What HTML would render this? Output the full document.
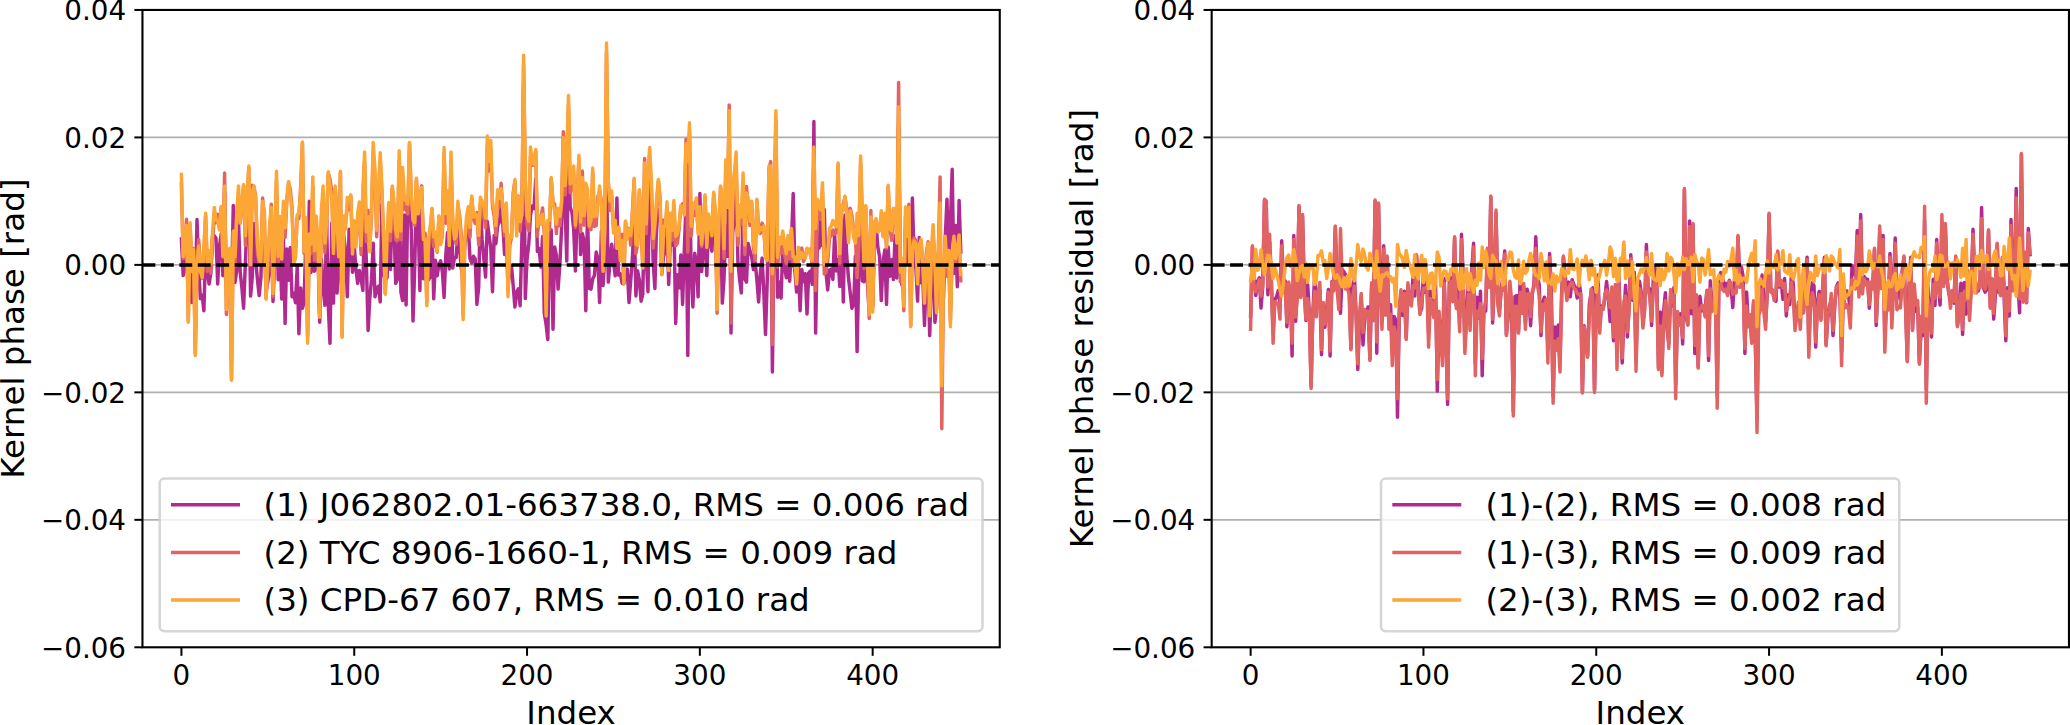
<!DOCTYPE html><html><head><meta charset="utf-8"><title>Kernel phase</title><style>html,body{margin:0;padding:0;background:#fff}svg{display:block}text{font-family:"DejaVu Sans","Liberation Sans",sans-serif;fill:#000}</style></head><body>
<svg width="2070" height="725" viewBox="0 0 2070 725">
<rect width="2070" height="725" fill="#fff"/>
<g>
<line x1="142.46" x2="999.76" y1="137.42" y2="137.42" stroke="#b0b0b0" stroke-width="1.85"/>
<line x1="142.46" x2="999.76" y1="264.89" y2="264.89" stroke="#b0b0b0" stroke-width="1.85"/>
<line x1="142.46" x2="999.76" y1="392.36" y2="392.36" stroke="#b0b0b0" stroke-width="1.85"/>
<line x1="142.46" x2="999.76" y1="519.83" y2="519.83" stroke="#b0b0b0" stroke-width="1.85"/>
<clipPath id="cp0"><rect x="142.46" y="9.95" width="857.30" height="637.35"/></clipPath>
<g clip-path="url(#cp0)" fill="none" stroke-width="3.47" stroke-linejoin="round" stroke-linecap="square">
<path d="M181.4,238.8 L183.2,275.6 L184.9,263.6 L186.6,252.3 L188.3,294.8 L190.1,237.8 L191.8,302.5 L193.5,270.7 L195.3,295.9 L197.0,219.6 L198.7,268.2 L200.4,298.6 L202.2,295.2 L203.9,310.8 L205.6,250.2 L207.3,272.6 L209.1,284.0 L210.8,273.0 L212.5,236.6 L214.3,235.7 L216.0,238.2 L217.7,284.0 L219.4,247.0 L221.2,234.0 L222.9,275.8 L224.6,191.9 L226.4,285.1 L228.1,275.7 L229.8,266.4 L231.5,284.8 L233.3,205.6 L235.0,282.6 L236.7,270.3 L238.5,219.5 L240.2,272.2 L241.9,287.8 L243.6,308.2 L245.4,262.3 L247.1,218.4 L248.8,193.9 L250.6,296.1 L252.3,276.5 L254.0,223.4 L255.7,260.0 L257.5,280.4 L259.2,295.5 L260.9,277.7 L262.6,218.4 L264.4,237.3 L266.1,291.3 L267.8,281.9 L269.6,269.6 L271.3,229.5 L273.0,301.4 L274.7,258.9 L276.5,195.4 L278.2,279.7 L279.9,245.6 L281.7,299.0 L283.4,234.0 L285.1,323.5 L286.8,248.9 L288.6,280.2 L290.3,247.4 L292.0,296.8 L293.8,293.4 L295.5,302.8 L297.2,266.5 L298.9,333.7 L300.7,288.0 L302.4,308.2 L304.1,302.4 L305.8,238.8 L307.6,299.1 L309.3,201.2 L311.0,272.4 L312.8,241.3 L314.5,271.3 L316.2,266.3 L317.9,246.4 L319.7,322.2 L321.4,259.2 L323.1,286.6 L324.9,305.3 L326.6,220.3 L328.3,305.7 L330.0,343.3 L331.8,222.9 L333.5,303.1 L335.2,214.6 L337.0,293.0 L338.7,274.5 L340.4,209.9 L342.1,282.2 L343.9,236.8 L345.6,251.7 L347.3,296.8 L349.1,229.2 L350.8,244.5 L352.5,272.2 L354.2,244.5 L356.0,270.0 L357.7,283.4 L359.4,270.4 L361.1,279.0 L362.9,290.4 L364.6,204.8 L366.3,260.3 L368.1,330.5 L369.8,298.1 L371.5,279.7 L373.2,243.2 L375.0,296.8 L376.7,289.0 L378.4,286.2 L380.2,301.9 L381.9,204.5 L383.6,273.5 L385.3,280.3 L387.1,277.5 L388.8,238.8 L390.5,269.5 L392.3,189.6 L394.0,228.0 L395.7,283.4 L397.4,279.3 L399.2,180.1 L400.9,291.8 L402.6,300.6 L404.4,215.0 L406.1,305.0 L407.8,198.0 L409.5,194.1 L411.3,231.1 L413.0,321.0 L414.7,267.8 L416.4,194.8 L418.2,222.4 L419.9,290.4 L421.6,185.9 L423.4,278.8 L425.1,254.0 L426.8,276.7 L428.5,280.0 L430.3,276.8 L432.0,230.4 L433.7,298.7 L435.5,260.3 L437.2,275.7 L438.9,264.4 L440.6,260.9 L442.4,272.1 L444.1,297.4 L445.8,255.0 L447.6,232.4 L449.3,268.9 L451.0,179.5 L452.7,268.1 L454.5,257.4 L456.2,257.6 L457.9,230.3 L459.6,247.8 L461.4,269.0 L463.1,276.1 L464.8,239.4 L466.6,234.6 L468.3,227.2 L470.0,258.4 L471.7,263.0 L473.5,256.3 L475.2,259.0 L476.9,304.4 L478.7,287.0 L480.4,204.0 L482.1,239.7 L483.8,258.7 L485.6,277.0 L487.3,221.5 L489.0,235.1 L490.8,247.7 L492.5,291.7 L494.2,235.4 L495.9,243.7 L497.7,225.3 L499.4,222.1 L501.1,207.9 L502.9,224.9 L504.6,254.6 L506.3,227.7 L508.0,289.7 L509.8,265.3 L511.5,266.5 L513.2,285.3 L514.9,307.0 L516.7,291.8 L518.4,288.9 L520.1,305.7 L521.9,238.9 L523.6,86.2 L525.3,298.6 L527.0,259.9 L528.8,243.7 L530.5,215.2 L532.2,206.0 L534.0,208.5 L535.7,178.9 L537.4,251.5 L539.1,248.3 L540.9,267.0 L542.6,236.5 L544.3,313.3 L546.1,324.5 L547.8,339.5 L549.5,239.1 L551.2,229.9 L553.0,329.3 L554.7,247.1 L556.4,255.3 L558.1,289.1 L559.9,263.8 L561.6,226.9 L563.3,170.5 L565.1,207.0 L566.8,261.1 L568.5,139.4 L570.2,207.4 L572.0,212.7 L573.7,229.2 L575.4,270.9 L577.2,211.3 L578.9,179.7 L580.6,254.6 L582.3,233.5 L584.1,241.0 L585.8,310.8 L587.5,212.5 L589.3,288.4 L591.0,289.1 L592.7,278.9 L594.4,275.5 L596.2,252.1 L597.9,258.8 L599.6,302.5 L601.4,231.0 L603.1,285.5 L604.8,256.0 L606.5,176.9 L608.3,282.1 L610.0,261.7 L611.7,244.2 L613.4,261.5 L615.2,275.7 L616.9,198.0 L618.6,275.1 L620.4,273.8 L622.1,283.3 L623.8,283.8 L625.5,275.3 L627.3,269.1 L629.0,302.5 L630.7,280.7 L632.5,256.5 L634.2,219.2 L635.9,295.9 L637.6,270.7 L639.4,280.2 L641.1,301.2 L642.8,294.0 L644.6,200.3 L646.3,260.6 L648.0,291.7 L649.7,168.3 L651.5,202.6 L653.2,263.0 L654.9,288.5 L656.6,223.0 L658.4,210.1 L660.1,214.6 L661.8,274.5 L663.6,255.7 L665.3,252.7 L667.0,229.7 L668.7,284.4 L670.5,235.7 L672.2,245.3 L673.9,222.5 L675.7,323.5 L677.4,274.7 L679.1,287.8 L680.8,255.1 L682.6,304.4 L684.3,250.7 L686.0,203.8 L687.8,355.4 L689.5,173.3 L691.2,271.3 L692.9,307.0 L694.7,253.3 L696.4,262.3 L698.1,296.8 L699.9,193.5 L701.6,271.5 L703.3,251.0 L705.0,230.5 L706.8,275.6 L708.5,223.1 L710.2,241.8 L711.9,251.2 L713.7,215.4 L715.4,230.0 L717.1,285.8 L718.9,255.3 L720.6,217.4 L722.3,303.1 L724.0,279.3 L725.8,225.4 L727.5,256.2 L729.2,147.7 L731.0,333.1 L732.7,232.3 L734.4,220.3 L736.1,173.7 L737.9,261.7 L739.6,279.2 L741.3,292.9 L743.1,201.0 L744.8,279.2 L746.5,282.1 L748.2,243.6 L750.0,251.1 L751.7,256.6 L753.4,269.5 L755.2,262.1 L756.9,280.2 L758.6,301.9 L760.3,273.0 L762.1,258.1 L763.8,291.7 L765.5,334.4 L767.2,282.0 L769.0,186.5 L770.7,184.8 L772.4,372.0 L774.2,221.9 L775.9,153.6 L777.6,297.3 L779.3,281.9 L781.1,298.0 L782.8,245.7 L784.5,265.7 L786.3,277.8 L788.0,255.4 L789.7,281.2 L791.4,244.6 L793.2,193.5 L794.9,271.0 L796.6,292.0 L798.4,264.5 L800.1,310.8 L801.8,269.5 L803.5,281.7 L805.3,273.7 L807.0,314.0 L808.7,272.9 L810.4,271.0 L812.2,284.3 L813.9,121.5 L815.6,333.1 L817.4,238.5 L819.1,248.1 L820.8,214.9 L822.5,245.8 L824.3,209.4 L826.0,272.7 L827.7,289.9 L829.5,270.2 L831.2,269.0 L832.9,279.5 L834.6,233.9 L836.4,271.1 L838.1,259.8 L839.8,286.4 L841.6,219.5 L843.3,301.9 L845.0,215.0 L846.7,255.2 L848.5,278.3 L850.2,292.6 L851.9,308.2 L853.7,304.4 L855.4,256.2 L857.1,351.6 L858.8,270.0 L860.6,204.4 L862.3,280.7 L864.0,281.7 L865.7,239.1 L867.5,283.8 L869.2,312.6 L870.9,229.8 L872.7,306.9 L874.4,244.0 L876.1,223.5 L877.8,246.8 L879.6,257.0 L881.3,300.6 L883.0,262.3 L884.8,250.0 L886.5,304.4 L888.2,247.0 L889.9,276.3 L891.7,259.4 L893.4,279.5 L895.1,235.4 L896.9,278.0 L898.6,126.2 L900.3,274.1 L902.0,285.2 L903.8,284.3 L905.5,229.1 L907.2,264.3 L908.9,226.6 L910.7,294.7 L912.4,198.0 L914.1,261.2 L915.9,268.5 L917.6,301.1 L919.3,237.5 L921.0,282.7 L922.8,277.6 L924.5,325.4 L926.2,279.8 L928.0,267.1 L929.7,335.6 L931.4,280.4 L933.1,242.4 L934.9,322.3 L936.6,306.9 L938.3,276.1 L940.1,249.0 L941.8,304.9 L943.5,298.0 L945.2,239.4 L947.0,199.2 L948.7,276.7 L950.4,223.5 L952.2,169.3 L953.9,273.5 L955.6,225.4 L957.3,286.7 L959.1,200.5 L960.8,252.1" stroke="#b12a90"/>
<path d="M181.4,183.9 L183.2,258.5 L184.9,251.0 L186.6,219.2 L188.3,321.0 L190.1,225.3 L191.8,265.0 L193.5,248.6 L195.3,354.1 L197.0,262.5 L198.7,239.8 L200.4,264.9 L202.2,278.2 L203.9,255.5 L205.6,216.0 L207.3,271.5 L209.1,260.1 L210.8,273.1 L212.5,241.6 L214.3,217.1 L216.0,222.6 L217.7,214.2 L219.4,223.6 L221.2,208.0 L222.9,257.2 L224.6,173.1 L226.4,314.6 L228.1,271.8 L229.8,256.7 L231.5,379.0 L233.3,231.9 L235.0,266.2 L236.7,214.6 L238.5,195.4 L240.2,223.0 L241.9,206.2 L243.6,185.9 L245.4,245.4 L247.1,205.5 L248.8,167.4 L250.6,258.4 L252.3,185.3 L254.0,187.1 L255.7,196.8 L257.5,254.5 L259.2,261.8 L260.9,256.5 L262.6,198.0 L264.4,220.7 L266.1,298.0 L267.8,268.3 L269.6,234.5 L271.3,204.3 L273.0,296.8 L274.7,251.1 L276.5,180.8 L278.2,265.8 L279.9,226.0 L281.7,252.8 L283.4,210.7 L285.1,237.3 L286.8,200.0 L288.6,182.7 L290.3,189.7 L292.0,207.3 L293.8,257.4 L295.5,251.7 L297.2,217.4 L298.9,218.5 L300.7,186.0 L302.4,143.2 L304.1,253.2 L305.8,227.3 L307.6,336.9 L309.3,243.7 L311.0,253.6 L312.8,186.5 L314.5,260.3 L316.2,224.8 L317.9,247.1 L319.7,315.9 L321.4,219.4 L323.1,195.4 L324.9,252.7 L326.6,230.2 L328.3,173.1 L330.0,179.1 L331.8,191.7 L333.5,248.0 L335.2,188.7 L337.0,212.1 L338.7,252.4 L340.4,172.5 L342.1,336.3 L343.9,225.5 L345.6,222.5 L347.3,206.8 L349.1,209.7 L350.8,196.1 L352.5,247.6 L354.2,230.4 L356.0,241.7 L357.7,222.7 L359.4,211.5 L361.1,254.4 L362.9,198.1 L364.6,161.6 L366.3,241.5 L368.1,210.4 L369.8,245.3 L371.5,216.3 L373.2,152.1 L375.0,176.7 L376.7,236.7 L378.4,202.9 L380.2,162.3 L381.9,192.3 L383.6,240.0 L385.3,292.9 L387.1,237.3 L388.8,211.9 L390.5,240.8 L392.3,187.9 L394.0,211.5 L395.7,239.7 L397.4,240.7 L399.2,160.4 L400.9,239.6 L402.6,177.1 L404.4,209.4 L406.1,208.9 L407.8,213.9 L409.5,143.8 L411.3,202.0 L413.0,214.1 L414.7,225.2 L416.4,179.5 L418.2,208.9 L419.9,204.4 L421.6,196.7 L423.4,233.2 L425.1,233.2 L426.8,301.6 L428.5,249.3 L430.3,233.7 L432.0,209.4 L433.7,246.4 L435.5,241.9 L437.2,252.2 L438.9,217.1 L440.6,238.1 L442.4,230.8 L444.1,152.8 L445.8,223.2 L447.6,200.4 L449.3,240.4 L451.0,161.6 L452.7,227.1 L454.5,235.3 L456.2,244.4 L457.9,207.3 L459.6,214.9 L461.4,237.2 L463.1,315.3 L464.8,245.4 L466.6,225.6 L468.3,216.4 L470.0,237.1 L471.7,197.3 L473.5,217.2 L475.2,223.5 L476.9,212.4 L478.7,244.8 L480.4,206.9 L482.1,210.8 L483.8,214.8 L485.6,227.7 L487.3,145.7 L489.0,170.9 L490.8,150.2 L492.5,206.4 L494.2,216.5 L495.9,235.1 L497.7,195.5 L499.4,206.5 L501.1,183.3 L502.9,210.8 L504.6,236.0 L506.3,204.4 L508.0,290.7 L509.8,245.0 L511.5,237.7 L513.2,192.4 L514.9,180.9 L516.7,229.7 L518.4,195.9 L520.1,231.2 L521.9,210.1 L523.6,64.8 L525.3,181.5 L527.0,224.9 L528.8,230.7 L530.5,156.5 L532.2,165.4 L534.0,164.9 L535.7,150.8 L537.4,236.1 L539.1,217.1 L540.9,217.9 L542.6,208.0 L544.3,234.1 L546.1,309.5 L547.8,230.1 L549.5,229.8 L551.2,178.8 L553.0,201.9 L554.7,204.3 L556.4,233.6 L558.1,209.4 L559.9,225.8 L561.6,205.6 L563.3,131.7 L565.1,195.0 L566.8,164.2 L568.5,104.9 L570.2,192.7 L572.0,186.1 L573.7,173.2 L575.4,227.4 L577.2,196.6 L578.9,159.0 L580.6,231.7 L582.3,171.0 L584.1,225.2 L585.8,192.9 L587.5,199.0 L589.3,227.0 L591.0,229.6 L592.7,172.2 L594.4,226.4 L596.2,225.7 L597.9,196.4 L599.6,192.1 L601.4,200.0 L603.1,266.0 L604.8,235.6 L606.5,52.7 L608.3,181.8 L610.0,210.6 L611.7,196.3 L613.4,226.7 L615.2,224.9 L616.9,242.1 L618.6,227.0 L620.4,260.1 L622.1,234.3 L623.8,282.1 L625.5,222.2 L627.3,235.4 L629.0,228.6 L630.7,245.1 L632.5,209.6 L634.2,179.5 L635.9,253.5 L637.6,244.4 L639.4,191.0 L641.1,228.6 L642.8,266.8 L644.6,158.5 L646.3,233.5 L648.0,179.0 L649.7,157.2 L651.5,193.3 L653.2,248.0 L654.9,227.4 L656.6,206.0 L658.4,180.8 L660.1,199.4 L661.8,269.6 L663.6,219.9 L665.3,235.7 L667.0,207.2 L668.7,269.4 L670.5,222.7 L672.2,240.0 L673.9,210.1 L675.7,245.7 L677.4,243.3 L679.1,228.7 L680.8,206.9 L682.6,203.8 L684.3,211.7 L686.0,139.3 L687.8,252.1 L689.5,132.3 L691.2,235.9 L692.9,212.6 L694.7,215.2 L696.4,207.5 L698.1,229.9 L699.9,214.9 L701.6,246.5 L703.3,225.9 L705.0,197.6 L706.8,241.0 L708.5,219.1 L710.2,219.3 L711.9,234.2 L713.7,193.5 L715.4,217.7 L717.1,313.3 L718.9,227.3 L720.6,187.1 L722.3,210.2 L724.0,258.2 L725.8,167.0 L727.5,203.1 L729.2,104.9 L731.0,322.9 L732.7,208.0 L734.4,174.6 L736.1,161.6 L737.9,245.2 L739.6,214.8 L741.3,224.5 L743.1,182.7 L744.8,254.4 L746.5,186.5 L748.2,207.5 L750.0,225.5 L751.7,203.3 L753.4,246.6 L755.2,260.5 L756.9,200.5 L758.6,228.0 L760.3,233.5 L762.1,223.1 L763.8,227.3 L765.5,255.9 L767.2,260.8 L769.0,169.1 L770.7,161.6 L772.4,344.6 L774.2,202.7 L775.9,120.2 L777.6,266.9 L779.3,246.8 L781.1,253.4 L782.8,240.7 L784.5,254.0 L786.3,263.2 L788.0,245.0 L789.7,258.7 L791.4,229.8 L793.2,266.4 L794.9,260.0 L796.6,282.7 L798.4,250.9 L800.1,252.5 L801.8,248.0 L803.5,261.5 L805.3,256.7 L807.0,249.6 L808.7,251.5 L810.4,249.1 L812.2,265.8 L813.9,156.5 L815.6,290.4 L817.4,209.1 L819.1,212.6 L820.8,219.6 L822.5,192.2 L824.3,274.0 L826.0,272.4 L827.7,260.8 L829.5,238.1 L831.2,235.6 L832.9,230.0 L834.6,234.3 L836.4,231.9 L838.1,164.2 L839.8,263.2 L841.6,210.9 L843.3,203.8 L845.0,197.3 L846.7,208.8 L848.5,236.3 L850.2,208.2 L851.9,215.7 L853.7,231.1 L855.4,236.8 L857.1,277.6 L858.8,245.1 L860.6,163.3 L862.3,217.0 L864.0,268.5 L865.7,206.9 L867.5,265.2 L869.2,318.4 L870.9,210.5 L872.7,305.7 L874.4,224.4 L876.1,220.2 L877.8,231.7 L879.6,227.6 L881.3,220.3 L883.0,234.7 L884.8,214.5 L886.5,248.2 L888.2,186.5 L889.9,229.0 L891.7,240.4 L893.4,209.4 L895.1,218.6 L896.9,236.5 L898.6,82.6 L900.3,281.7 L902.0,265.0 L903.8,310.8 L905.5,216.5 L907.2,229.9 L908.9,204.3 L910.7,325.4 L912.4,243.5 L914.1,238.1 L915.9,240.5 L917.6,277.6 L919.3,249.7 L921.0,240.7 L922.8,263.5 L924.5,296.8 L926.2,254.6 L928.0,241.8 L929.7,311.0 L931.4,259.1 L933.1,234.3 L934.9,259.6 L936.6,310.2 L938.3,254.2 L940.1,176.9 L941.8,428.7 L943.5,281.5 L945.2,245.8 L947.0,276.3 L948.7,260.2 L950.4,320.3 L952.2,250.9 L953.9,245.8 L955.6,264.5 L957.3,248.7 L959.1,244.5 L960.8,280.8" stroke="#e16462"/>
<path d="M181.4,174.4 L183.2,256.6 L184.9,241.5 L186.6,225.6 L188.3,322.3 L190.1,222.8 L191.8,271.4 L193.5,249.4 L195.3,355.4 L197.0,263.7 L198.7,246.1 L200.4,271.3 L202.2,277.3 L203.9,246.0 L205.6,213.3 L207.3,263.1 L209.1,250.6 L210.8,263.6 L212.5,232.1 L214.3,207.5 L216.0,219.9 L217.7,220.6 L219.4,230.0 L221.2,206.5 L222.9,256.1 L224.6,185.9 L226.4,309.5 L228.1,262.2 L229.8,248.3 L231.5,380.3 L233.3,231.1 L235.0,256.7 L236.7,216.1 L238.5,185.9 L240.2,222.9 L241.9,202.9 L243.6,184.6 L245.4,235.8 L247.1,196.0 L248.8,166.1 L250.6,264.8 L252.3,191.7 L254.0,185.9 L255.7,200.9 L257.5,244.9 L259.2,258.4 L260.9,262.8 L262.6,201.2 L264.4,211.1 L266.1,299.3 L267.8,258.7 L269.6,225.0 L271.3,207.5 L273.0,293.6 L274.7,241.6 L276.5,171.2 L278.2,256.3 L279.9,216.4 L281.7,259.1 L283.4,201.2 L285.1,227.7 L286.8,200.0 L288.6,181.4 L290.3,196.1 L292.0,211.0 L293.8,263.8 L295.5,258.1 L297.2,215.1 L298.9,213.4 L300.7,192.4 L302.4,141.9 L304.1,251.3 L305.8,217.7 L307.6,343.3 L309.3,234.1 L311.0,244.0 L312.8,176.9 L314.5,250.7 L316.2,215.9 L317.9,239.5 L319.7,317.2 L321.4,209.9 L323.1,185.9 L324.9,243.1 L326.6,220.6 L328.3,171.8 L330.0,185.5 L331.8,198.1 L333.5,253.4 L335.2,186.0 L337.0,218.4 L338.7,256.7 L340.4,171.2 L342.1,337.5 L343.9,215.9 L345.6,228.8 L347.3,197.4 L349.1,200.1 L350.8,194.8 L352.5,254.0 L354.2,220.8 L356.0,246.9 L357.7,213.2 L359.4,201.9 L361.1,245.4 L362.9,189.9 L364.6,152.1 L366.3,231.9 L368.1,216.7 L369.8,251.7 L371.5,206.7 L373.2,142.5 L375.0,170.6 L376.7,230.2 L378.4,193.3 L380.2,152.7 L381.9,188.0 L383.6,236.6 L385.3,294.2 L387.1,233.9 L388.8,202.4 L390.5,231.2 L392.3,185.9 L394.0,201.9 L395.7,230.2 L397.4,236.9 L399.2,150.8 L400.9,230.9 L402.6,167.5 L404.4,199.9 L406.1,199.3 L407.8,204.3 L409.5,142.5 L411.3,192.4 L413.0,220.5 L414.7,222.7 L416.4,178.2 L418.2,213.8 L419.9,195.2 L421.6,187.1 L423.4,239.6 L425.1,238.8 L426.8,305.7 L428.5,239.8 L430.3,225.8 L432.0,208.2 L433.7,236.8 L435.5,232.4 L437.2,251.5 L438.9,215.8 L440.6,244.5 L442.4,237.1 L444.1,147.6 L445.8,213.6 L447.6,190.8 L449.3,245.4 L451.0,152.1 L452.7,217.5 L454.5,239.0 L456.2,236.1 L457.9,201.2 L459.6,218.9 L461.4,243.6 L463.1,319.7 L464.8,240.1 L466.6,216.0 L468.3,206.8 L470.0,227.5 L471.7,196.1 L473.5,217.1 L475.2,213.9 L476.9,215.4 L478.7,235.3 L480.4,197.3 L482.1,201.2 L483.8,205.8 L485.6,218.1 L487.3,136.1 L489.0,161.3 L490.8,140.6 L492.5,202.5 L494.2,211.4 L495.9,225.5 L497.7,189.7 L499.4,198.4 L501.1,188.4 L502.9,207.4 L504.6,231.2 L506.3,203.1 L508.0,296.8 L509.8,235.4 L511.5,237.4 L513.2,197.1 L514.9,179.5 L516.7,236.0 L518.4,196.5 L520.1,221.7 L521.9,214.9 L523.6,55.2 L525.3,178.2 L527.0,215.4 L528.8,221.2 L530.5,147.0 L532.2,163.0 L534.0,164.0 L535.7,149.5 L537.4,226.5 L539.1,215.8 L540.9,224.2 L542.6,214.3 L544.3,224.5 L546.1,315.9 L547.8,220.5 L549.5,220.3 L551.2,177.6 L553.0,203.6 L554.7,210.6 L556.4,224.1 L558.1,208.2 L559.9,216.2 L561.6,201.2 L563.3,137.4 L565.1,185.5 L566.8,154.6 L568.5,95.4 L570.2,183.9 L572.0,181.8 L573.7,166.1 L575.4,225.0 L577.2,202.9 L578.9,155.3 L580.6,222.1 L582.3,177.4 L584.1,215.7 L585.8,183.3 L587.5,189.5 L589.3,226.0 L591.0,220.0 L592.7,168.0 L594.4,216.8 L596.2,216.2 L597.9,202.7 L599.6,185.9 L601.4,206.4 L603.1,271.3 L604.8,226.1 L606.5,43.1 L608.3,182.9 L610.0,201.0 L611.7,191.0 L613.4,233.0 L615.2,220.3 L616.9,248.3 L618.6,227.6 L620.4,260.6 L622.1,240.6 L623.8,283.4 L625.5,220.9 L627.3,239.3 L629.0,229.3 L630.7,235.6 L632.5,216.0 L634.2,178.2 L635.9,243.9 L637.6,245.3 L639.4,189.7 L641.1,219.0 L642.8,268.1 L644.6,162.9 L646.3,223.9 L648.0,169.5 L649.7,147.6 L651.5,183.7 L653.2,238.4 L654.9,223.1 L656.6,198.8 L658.4,179.5 L660.1,198.1 L661.8,274.5 L663.6,226.3 L665.3,226.2 L667.0,201.8 L668.7,270.6 L670.5,213.1 L672.2,230.4 L673.9,200.5 L675.7,236.2 L677.4,233.7 L679.1,225.9 L680.8,205.6 L682.6,210.1 L684.3,215.0 L686.0,143.8 L687.8,161.4 L689.5,122.8 L691.2,226.3 L692.9,203.1 L694.7,205.6 L696.4,198.0 L698.1,233.9 L699.9,206.7 L701.6,244.2 L703.3,225.1 L705.0,194.8 L706.8,247.4 L708.5,214.0 L710.2,221.1 L711.9,235.8 L713.7,192.2 L715.4,211.4 L717.1,309.5 L718.9,218.4 L720.6,185.9 L722.3,200.6 L724.0,248.6 L725.8,159.7 L727.5,207.3 L729.2,110.7 L731.0,271.3 L732.7,198.4 L734.4,172.2 L736.1,152.1 L737.9,235.6 L739.6,205.3 L741.3,216.9 L743.1,173.1 L744.8,244.9 L746.5,192.9 L748.2,198.0 L750.0,221.2 L751.7,201.2 L753.4,242.8 L755.2,252.8 L756.9,199.2 L758.6,232.7 L760.3,227.5 L762.1,229.5 L763.8,226.0 L765.5,258.0 L767.2,260.1 L769.0,166.1 L770.7,166.1 L772.4,273.8 L774.2,193.5 L775.9,110.7 L777.6,257.3 L779.3,237.2 L781.1,243.9 L782.8,231.1 L784.5,244.4 L786.3,253.7 L788.0,235.5 L789.7,249.1 L791.4,228.6 L793.2,256.8 L794.9,257.0 L796.6,284.0 L798.4,247.3 L800.1,258.9 L801.8,252.6 L803.5,257.6 L805.3,257.9 L807.0,248.3 L808.7,249.5 L810.4,255.5 L812.2,260.6 L813.9,147.0 L815.6,228.5 L817.4,199.5 L819.1,203.1 L820.8,210.0 L822.5,182.7 L824.3,264.5 L826.0,263.7 L827.7,251.2 L829.5,228.5 L831.2,226.0 L832.9,220.5 L834.6,224.7 L836.4,226.6 L838.1,162.9 L839.8,253.7 L841.6,206.0 L843.3,210.2 L845.0,196.1 L846.7,215.2 L848.5,242.6 L850.2,210.7 L851.9,222.1 L853.7,237.5 L855.4,243.1 L857.1,213.3 L858.8,235.5 L860.6,155.9 L862.3,212.5 L864.0,262.2 L865.7,205.6 L867.5,255.6 L869.2,314.6 L870.9,216.9 L872.7,312.1 L874.4,222.5 L876.1,218.6 L877.8,231.8 L879.6,230.3 L881.3,210.7 L883.0,236.7 L884.8,213.3 L886.5,246.5 L888.2,185.2 L889.9,228.6 L891.7,230.9 L893.4,208.2 L895.1,209.0 L896.9,242.9 L898.6,106.8 L900.3,272.1 L902.0,258.3 L903.8,306.3 L905.5,206.9 L907.2,236.3 L908.9,207.5 L910.7,326.7 L912.4,249.9 L914.1,241.1 L915.9,244.2 L917.6,284.0 L919.3,245.0 L921.0,239.4 L922.8,263.8 L924.5,303.1 L926.2,260.9 L928.0,243.3 L929.7,315.9 L931.4,249.6 L933.1,224.7 L934.9,266.0 L936.6,312.7 L938.3,249.9 L940.1,203.1 L941.8,386.0 L943.5,272.0 L945.2,236.2 L947.0,266.7 L948.7,250.6 L950.4,326.7 L952.2,251.5 L953.9,236.2 L955.6,258.6 L957.3,249.4 L959.1,234.9 L960.8,274.5" stroke="#fca636"/>
<line x1="142.46" x2="999.76" y1="264.89" y2="264.89" stroke="#000" stroke-width="3.47" stroke-dasharray="12.877 5.569" stroke-linecap="butt"/>
</g>
<rect x="142.46" y="9.95" width="857.30" height="637.35" fill="none" stroke="#000" stroke-width="2.1"/>
<line x1="134.36" x2="142.46" y1="9.95" y2="9.95" stroke="#000" stroke-width="2.0"/>
<text x="126.06" y="20.45" font-size="27.78" text-anchor="end">0.04</text>
<line x1="134.36" x2="142.46" y1="137.42" y2="137.42" stroke="#000" stroke-width="2.0"/>
<text x="126.06" y="147.92" font-size="27.78" text-anchor="end">0.02</text>
<line x1="134.36" x2="142.46" y1="264.89" y2="264.89" stroke="#000" stroke-width="2.0"/>
<text x="126.06" y="275.39" font-size="27.78" text-anchor="end">0.00</text>
<line x1="134.36" x2="142.46" y1="392.36" y2="392.36" stroke="#000" stroke-width="2.0"/>
<text x="126.06" y="402.86" font-size="27.78" text-anchor="end">−0.02</text>
<line x1="134.36" x2="142.46" y1="519.83" y2="519.83" stroke="#000" stroke-width="2.0"/>
<text x="126.06" y="530.33" font-size="27.78" text-anchor="end">−0.04</text>
<line x1="134.36" x2="142.46" y1="647.30" y2="647.30" stroke="#000" stroke-width="2.0"/>
<text x="126.06" y="657.80" font-size="27.78" text-anchor="end">−0.06</text>
<line x1="181.43" x2="181.43" y1="647.30" y2="655.80" stroke="#000" stroke-width="2.0"/>
<text x="181.43" y="684.90" font-size="27.78" text-anchor="middle">0</text>
<line x1="354.24" x2="354.24" y1="647.30" y2="655.80" stroke="#000" stroke-width="2.0"/>
<text x="354.24" y="684.90" font-size="27.78" text-anchor="middle">100</text>
<line x1="527.04" x2="527.04" y1="647.30" y2="655.80" stroke="#000" stroke-width="2.0"/>
<text x="527.04" y="684.90" font-size="27.78" text-anchor="middle">200</text>
<line x1="699.85" x2="699.85" y1="647.30" y2="655.80" stroke="#000" stroke-width="2.0"/>
<text x="699.85" y="684.90" font-size="27.78" text-anchor="middle">300</text>
<line x1="872.66" x2="872.66" y1="647.30" y2="655.80" stroke="#000" stroke-width="2.0"/>
<text x="872.66" y="684.90" font-size="27.78" text-anchor="middle">400</text>
<text x="571.11" y="723.50" font-size="32.50" text-anchor="middle">Index</text>
<text transform="translate(23.96,328.62) rotate(-90)" font-size="32.50" text-anchor="middle">Kernel phase [rad]</text>
<rect x="159.70" y="478.45" width="822.80" height="152.75" rx="4.6" ry="4.6" fill="#fff" fill-opacity="0.8" stroke="#ccc" stroke-opacity="0.8" stroke-width="2.55"/>
<line x1="172.74" x2="238.24" y1="504.70" y2="504.70" stroke="#b12a90" stroke-width="3.47" stroke-linecap="square"/>
<text x="263.50" y="515.80" font-size="32.50">(1) J062802.01-663738.0, RMS = 0.006 rad</text>
<line x1="172.74" x2="238.24" y1="552.40" y2="552.40" stroke="#e16462" stroke-width="3.47" stroke-linecap="square"/>
<text x="263.50" y="563.50" font-size="32.50">(2) TYC 8906-1660-1, RMS = 0.009 rad</text>
<line x1="172.74" x2="238.24" y1="600.10" y2="600.10" stroke="#fca636" stroke-width="3.47" stroke-linecap="square"/>
<text x="263.50" y="611.20" font-size="32.50">(3) CPD-67 607, RMS = 0.010 rad</text>
</g>
<g>
<line x1="1211.67" x2="2068.97" y1="137.42" y2="137.42" stroke="#b0b0b0" stroke-width="1.85"/>
<line x1="1211.67" x2="2068.97" y1="264.89" y2="264.89" stroke="#b0b0b0" stroke-width="1.85"/>
<line x1="1211.67" x2="2068.97" y1="392.36" y2="392.36" stroke="#b0b0b0" stroke-width="1.85"/>
<line x1="1211.67" x2="2068.97" y1="519.83" y2="519.83" stroke="#b0b0b0" stroke-width="1.85"/>
<clipPath id="cp1"><rect x="1211.67" y="9.95" width="857.30" height="637.35"/></clipPath>
<g clip-path="url(#cp1)" fill="none" stroke-width="3.47" stroke-linejoin="round" stroke-linecap="square">
<path d="M1250.6,316.5 L1252.4,247.0 L1254.1,275.9 L1255.8,295.5 L1257.6,281.5 L1259.3,277.9 L1261.0,308.0 L1262.7,286.8 L1264.5,200.5 L1266.2,202.4 L1267.9,294.7 L1269.6,241.6 L1271.4,282.1 L1273.1,332.4 L1274.8,299.6 L1276.6,296.7 L1278.3,290.5 L1280.0,305.0 L1281.7,240.7 L1283.5,279.3 L1285.2,281.0 L1286.9,326.7 L1288.7,289.8 L1290.4,291.2 L1292.1,356.0 L1293.8,235.6 L1295.6,321.3 L1297.3,286.6 L1299.0,206.9 L1300.8,295.8 L1302.5,215.8 L1304.2,281.1 L1305.9,320.4 L1307.7,284.8 L1309.4,314.1 L1311.1,385.9 L1312.8,313.9 L1314.6,277.3 L1316.3,304.1 L1318.0,300.3 L1319.8,290.1 L1321.5,354.8 L1323.2,304.6 L1324.9,327.3 L1326.7,308.3 L1328.4,289.5 L1330.1,356.0 L1331.9,281.5 L1333.6,283.3 L1335.3,227.3 L1337.0,280.1 L1338.8,299.2 L1340.5,313.3 L1342.2,269.6 L1344.0,271.8 L1345.7,275.1 L1347.4,279.2 L1349.1,280.1 L1350.9,348.4 L1352.6,289.1 L1354.3,273.5 L1356.1,313.8 L1357.8,369.4 L1359.5,323.0 L1361.2,296.3 L1363.0,345.0 L1364.7,317.6 L1366.4,314.5 L1368.1,307.0 L1369.9,359.2 L1371.6,286.7 L1373.3,319.3 L1375.1,201.2 L1376.8,353.2 L1378.5,204.3 L1380.2,279.2 L1382.0,321.2 L1383.7,245.8 L1385.4,308.2 L1387.2,257.2 L1388.9,319.9 L1390.6,304.8 L1392.3,352.0 L1394.1,316.4 L1395.8,319.9 L1397.5,417.2 L1399.3,313.7 L1401.0,297.2 L1402.7,315.5 L1404.4,291.3 L1406.2,338.2 L1407.9,286.1 L1409.6,303.6 L1411.3,301.1 L1413.1,275.9 L1414.8,295.9 L1416.5,256.0 L1418.3,282.8 L1420.0,313.3 L1421.7,308.3 L1423.4,274.5 L1425.2,292.2 L1426.9,276.2 L1428.6,333.1 L1430.4,291.2 L1432.1,298.9 L1433.8,303.6 L1435.5,279.6 L1437.3,391.1 L1439.0,317.7 L1440.7,323.8 L1442.5,356.7 L1444.2,278.5 L1445.9,331.9 L1447.6,404.5 L1449.4,276.9 L1451.1,278.0 L1452.8,299.1 L1454.6,238.1 L1456.3,305.8 L1458.0,289.9 L1459.7,317.8 L1461.5,234.3 L1463.2,277.0 L1464.9,342.7 L1466.6,316.8 L1468.4,280.2 L1470.1,323.6 L1471.8,270.2 L1473.6,243.2 L1475.3,363.5 L1477.0,297.2 L1478.7,318.0 L1480.5,291.3 L1482.2,375.8 L1483.9,308.0 L1485.7,311.1 L1487.4,252.3 L1489.1,280.2 L1490.8,197.3 L1492.6,322.9 L1494.3,284.6 L1496.0,213.3 L1497.8,291.1 L1499.5,309.5 L1501.2,289.6 L1502.9,276.5 L1504.7,250.9 L1506.4,334.4 L1508.1,317.7 L1509.9,291.5 L1511.6,309.5 L1513.3,411.8 L1515.0,296.6 L1516.8,295.6 L1518.5,331.8 L1520.2,278.3 L1521.9,303.5 L1523.7,286.3 L1525.4,322.6 L1527.1,289.2 L1528.9,297.0 L1530.6,325.7 L1532.3,294.4 L1534.0,283.5 L1535.8,236.8 L1537.5,276.6 L1539.2,284.8 L1541.0,335.6 L1542.7,304.0 L1544.4,297.2 L1546.1,301.8 L1547.9,349.0 L1549.6,253.4 L1551.3,289.3 L1553.1,396.0 L1554.8,327.0 L1556.5,341.3 L1558.2,325.1 L1560.0,359.7 L1561.7,291.8 L1563.4,257.2 L1565.1,273.9 L1566.9,295.9 L1568.6,282.1 L1570.3,296.7 L1572.1,279.7 L1573.8,284.5 L1575.5,288.4 L1577.2,298.1 L1579.0,280.7 L1580.7,293.7 L1582.4,391.7 L1584.2,325.8 L1585.9,342.1 L1587.6,356.0 L1589.3,304.6 L1591.1,292.7 L1592.8,287.9 L1594.5,389.7 L1596.3,295.4 L1598.0,275.0 L1599.7,325.0 L1601.4,306.0 L1603.2,308.7 L1604.9,297.9 L1606.6,281.6 L1608.4,298.7 L1610.1,321.6 L1611.8,297.7 L1613.5,340.7 L1615.3,289.8 L1617.0,356.7 L1618.7,270.6 L1620.4,322.6 L1622.2,363.0 L1623.9,315.4 L1625.6,285.2 L1627.4,336.9 L1629.1,303.6 L1630.8,254.7 L1632.5,300.2 L1634.3,272.3 L1636.0,357.3 L1637.7,297.9 L1639.5,281.3 L1641.2,292.3 L1642.9,322.3 L1644.6,308.9 L1646.4,244.5 L1648.1,286.3 L1649.8,289.4 L1651.6,325.4 L1653.3,279.1 L1655.0,267.5 L1656.7,275.2 L1658.5,368.1 L1660.2,311.9 L1661.9,372.5 L1663.6,311.8 L1665.4,292.7 L1667.1,330.1 L1668.8,343.4 L1670.6,295.7 L1672.3,305.7 L1674.0,287.2 L1675.7,384.7 L1677.5,312.4 L1679.2,317.3 L1680.9,313.9 L1682.7,343.9 L1684.4,189.7 L1686.1,316.4 L1687.8,325.0 L1689.6,220.9 L1691.3,313.7 L1693.0,224.7 L1694.8,353.6 L1696.5,297.8 L1698.2,366.9 L1699.9,296.3 L1701.7,311.0 L1703.4,310.2 L1705.1,308.8 L1706.9,291.0 L1708.6,360.5 L1710.3,280.8 L1712.0,305.3 L1713.8,298.3 L1715.5,287.6 L1717.2,396.1 L1718.9,277.4 L1720.7,272.6 L1722.4,276.7 L1724.1,287.8 L1725.9,283.3 L1727.6,294.2 L1729.3,280.3 L1731.0,286.8 L1732.8,307.5 L1734.5,279.4 L1736.2,288.4 L1738.0,236.8 L1739.7,279.2 L1741.4,267.0 L1743.1,276.2 L1744.9,353.5 L1746.6,291.9 L1748.3,324.5 L1750.1,319.4 L1751.8,342.0 L1753.5,303.3 L1755.2,338.9 L1757.0,418.5 L1758.7,301.4 L1760.4,298.6 L1762.1,275.1 L1763.9,298.5 L1765.6,321.6 L1767.3,293.0 L1769.1,214.5 L1770.8,290.3 L1772.5,290.1 L1774.2,298.4 L1776.0,301.3 L1777.7,252.1 L1779.4,287.1 L1781.2,281.5 L1782.9,299.3 L1784.6,278.5 L1786.3,315.9 L1788.1,294.7 L1789.8,304.6 L1791.5,273.4 L1793.3,284.2 L1795.0,324.8 L1796.7,317.2 L1798.4,307.1 L1800.2,315.2 L1801.9,286.2 L1803.6,311.0 L1805.4,272.5 L1807.1,257.2 L1808.8,343.4 L1810.5,302.2 L1812.3,282.6 L1814.0,285.9 L1815.7,347.1 L1817.4,302.0 L1819.2,291.4 L1820.9,318.6 L1822.6,288.6 L1824.4,257.2 L1826.1,344.6 L1827.8,317.8 L1829.5,305.6 L1831.3,300.7 L1833.0,335.6 L1834.7,306.8 L1836.5,286.2 L1838.2,282.9 L1839.9,295.8 L1841.6,351.6 L1843.4,285.9 L1845.1,293.8 L1846.8,290.9 L1848.6,295.5 L1850.3,314.0 L1852.0,265.5 L1853.7,272.2 L1855.5,276.0 L1857.2,230.5 L1858.9,283.2 L1860.7,214.5 L1862.4,286.0 L1864.1,276.5 L1865.8,279.4 L1867.6,279.2 L1869.3,308.2 L1871.0,285.5 L1872.7,285.9 L1874.5,249.6 L1876.2,325.4 L1877.9,286.7 L1879.7,233.1 L1881.4,284.4 L1883.1,235.6 L1884.8,338.2 L1886.6,289.9 L1888.3,297.1 L1890.0,253.4 L1891.8,314.0 L1893.5,280.7 L1895.2,238.1 L1896.9,295.8 L1898.7,292.5 L1900.4,300.1 L1902.1,271.5 L1903.9,257.2 L1905.6,305.1 L1907.3,360.5 L1909.0,285.7 L1910.8,257.2 L1912.5,329.3 L1914.2,294.4 L1915.9,311.4 L1917.7,307.6 L1919.4,363.0 L1921.1,330.1 L1922.9,335.6 L1924.6,220.3 L1926.3,389.2 L1928.0,285.3 L1929.8,307.5 L1931.5,336.9 L1933.2,279.3 L1935.0,305.5 L1936.7,239.4 L1938.4,283.9 L1940.1,305.0 L1941.9,221.7 L1943.6,284.9 L1945.3,224.7 L1947.1,280.0 L1948.8,293.8 L1950.5,297.2 L1952.2,292.0 L1954.0,303.3 L1955.7,257.2 L1957.4,325.4 L1959.2,312.2 L1960.9,283.3 L1962.6,334.4 L1964.3,282.4 L1966.1,314.1 L1967.8,270.2 L1969.5,312.0 L1971.2,286.5 L1973.0,229.2 L1974.7,273.1 L1976.4,291.7 L1978.2,291.1 L1979.9,284.6 L1981.6,207.5 L1983.3,287.4 L1985.1,292.2 L1986.8,289.5 L1988.5,231.1 L1990.3,307.0 L1992.0,279.0 L1993.7,319.1 L1995.4,295.2 L1997.2,244.5 L1998.9,292.5 L2000.6,287.0 L2002.4,258.5 L2004.1,296.9 L2005.8,340.7 L2007.5,287.7 L2009.3,315.9 L2011.0,219.6 L2012.7,279.6 L2014.4,280.0 L2016.2,188.4 L2017.9,282.1 L2019.6,312.8 L2021.4,154.6 L2023.1,288.2 L2024.8,253.4 L2026.5,302.8 L2028.3,228.6 L2030.0,254.7" stroke="#b12a90"/>
<path d="M1250.6,329.3 L1252.4,245.8 L1254.1,287.1 L1255.8,291.7 L1257.6,285.8 L1259.3,279.8 L1261.0,296.1 L1262.7,286.2 L1264.5,199.2 L1266.2,201.2 L1267.9,287.0 L1269.6,234.3 L1271.4,282.8 L1273.1,343.3 L1274.8,301.8 L1276.6,303.5 L1278.3,303.3 L1280.0,319.1 L1281.7,245.8 L1283.5,293.0 L1285.2,283.2 L1286.9,322.3 L1288.7,281.9 L1290.4,292.4 L1292.1,343.3 L1293.8,239.4 L1295.6,316.9 L1297.3,299.2 L1299.0,205.6 L1300.8,297.6 L1302.5,214.5 L1304.2,290.8 L1305.9,319.1 L1307.7,298.6 L1309.4,314.1 L1311.1,388.5 L1312.8,314.3 L1314.6,291.3 L1316.3,316.8 L1318.0,292.7 L1319.8,282.4 L1321.5,349.7 L1323.2,302.5 L1324.9,324.0 L1326.7,319.1 L1328.4,292.2 L1330.1,350.9 L1331.9,282.2 L1333.6,291.1 L1335.3,226.0 L1337.0,288.0 L1338.8,309.5 L1340.5,228.6 L1342.2,283.6 L1344.0,282.2 L1345.7,289.1 L1347.4,288.4 L1349.1,294.1 L1350.9,349.7 L1352.6,297.7 L1354.3,286.2 L1356.1,313.8 L1357.8,363.7 L1359.5,316.2 L1361.2,293.4 L1363.0,332.3 L1364.7,309.6 L1366.4,316.3 L1368.1,311.1 L1369.9,360.5 L1371.6,282.7 L1373.3,320.8 L1375.1,199.9 L1376.8,342.0 L1378.5,203.1 L1380.2,293.3 L1382.0,329.3 L1383.7,249.0 L1385.4,315.3 L1387.2,256.0 L1388.9,329.2 L1390.6,314.2 L1392.3,365.6 L1394.1,327.0 L1395.8,334.0 L1397.5,398.7 L1399.3,305.1 L1401.0,289.7 L1402.7,311.1 L1404.4,293.5 L1406.2,339.5 L1407.9,282.7 L1409.6,303.6 L1411.3,306.0 L1413.1,285.7 L1414.8,287.8 L1416.5,254.7 L1418.3,294.0 L1420.0,314.6 L1421.7,300.7 L1423.4,288.5 L1425.2,288.0 L1426.9,287.3 L1428.6,347.1 L1430.4,298.4 L1432.1,305.4 L1433.8,317.6 L1435.5,293.2 L1437.3,379.6 L1439.0,311.2 L1440.7,337.8 L1442.5,365.6 L1444.2,283.3 L1445.9,337.1 L1447.6,398.7 L1449.4,285.2 L1451.1,281.4 L1452.8,301.8 L1454.6,236.8 L1456.3,308.5 L1458.0,301.3 L1459.7,331.8 L1461.5,239.4 L1463.2,291.0 L1464.9,353.5 L1466.6,319.9 L1468.4,294.2 L1470.1,330.5 L1471.8,284.2 L1473.6,247.0 L1475.3,375.8 L1477.0,311.2 L1478.7,316.5 L1480.5,303.6 L1482.2,358.6 L1483.9,310.0 L1485.7,300.2 L1487.4,248.3 L1489.1,287.6 L1490.8,196.1 L1492.6,319.1 L1494.3,280.1 L1496.0,210.1 L1497.8,305.1 L1499.5,315.9 L1501.2,287.1 L1502.9,290.5 L1504.7,254.1 L1506.4,335.6 L1508.1,313.5 L1509.9,281.3 L1511.6,299.8 L1513.3,415.9 L1515.0,306.3 L1516.8,306.4 L1518.5,333.1 L1520.2,292.3 L1521.9,313.4 L1523.7,283.4 L1525.4,329.3 L1527.1,294.1 L1528.9,293.8 L1530.6,316.5 L1532.3,290.9 L1534.0,287.6 L1535.8,248.3 L1537.5,285.3 L1539.2,295.7 L1541.0,331.8 L1542.7,304.1 L1544.4,310.0 L1546.1,299.4 L1547.9,363.0 L1549.6,257.2 L1551.3,303.3 L1553.1,403.2 L1554.8,341.1 L1556.5,350.3 L1558.2,338.6 L1560.0,372.0 L1561.7,294.9 L1563.4,256.0 L1565.1,283.1 L1566.9,300.6 L1568.6,288.6 L1570.3,284.4 L1572.1,282.4 L1573.8,288.3 L1575.5,289.5 L1577.2,293.3 L1579.0,294.7 L1580.7,293.9 L1582.4,393.0 L1584.2,327.0 L1585.9,335.0 L1587.6,357.3 L1589.3,316.3 L1591.1,288.9 L1592.8,295.9 L1594.5,392.4 L1596.3,309.4 L1598.0,287.4 L1599.7,333.1 L1601.4,307.8 L1603.2,309.4 L1604.9,294.2 L1606.6,289.8 L1608.4,297.4 L1610.1,307.6 L1611.8,287.1 L1613.5,336.9 L1615.3,284.6 L1617.0,369.4 L1618.7,283.7 L1620.4,317.2 L1622.2,357.9 L1623.9,301.4 L1625.6,296.1 L1627.4,331.8 L1629.1,312.5 L1630.8,258.5 L1632.5,298.0 L1634.3,286.4 L1636.0,371.3 L1637.7,309.0 L1639.5,288.4 L1641.2,295.7 L1642.9,328.0 L1644.6,310.8 L1646.4,252.1 L1648.1,289.3 L1649.8,297.4 L1651.6,321.0 L1653.3,290.3 L1655.0,279.3 L1656.7,287.9 L1658.5,369.4 L1660.2,325.9 L1661.9,375.8 L1663.6,323.5 L1665.4,300.8 L1667.1,320.9 L1668.8,348.4 L1670.6,289.6 L1672.3,301.4 L1674.0,294.7 L1675.7,398.7 L1677.5,311.6 L1679.2,325.5 L1680.9,318.1 L1682.7,337.7 L1684.4,188.4 L1686.1,311.4 L1687.8,324.6 L1689.6,226.6 L1691.3,307.6 L1693.0,223.5 L1694.8,345.3 L1696.5,294.7 L1698.2,368.1 L1699.9,310.1 L1701.7,305.4 L1703.4,305.9 L1705.1,316.9 L1706.9,290.3 L1708.6,355.4 L1710.3,288.7 L1712.0,311.5 L1713.8,302.3 L1715.5,301.6 L1717.2,408.3 L1718.9,285.6 L1720.7,283.8 L1722.4,289.5 L1724.1,291.3 L1725.9,289.1 L1727.6,295.5 L1729.3,281.3 L1731.0,282.9 L1732.8,294.2 L1734.5,291.4 L1736.2,292.8 L1738.0,235.6 L1739.7,287.5 L1741.4,279.8 L1743.1,286.9 L1744.9,348.4 L1746.6,305.9 L1748.3,326.8 L1750.1,314.4 L1751.8,343.3 L1753.5,300.7 L1755.2,324.9 L1757.0,432.5 L1758.7,315.4 L1760.4,309.9 L1762.1,289.1 L1763.9,312.5 L1765.6,329.3 L1767.3,289.8 L1769.1,213.3 L1770.8,292.2 L1772.5,290.7 L1774.2,300.6 L1776.0,293.1 L1777.7,250.9 L1779.4,285.6 L1781.2,280.3 L1782.9,288.0 L1784.6,283.5 L1786.3,310.8 L1788.1,301.7 L1789.8,296.4 L1791.5,282.2 L1793.3,295.6 L1795.0,330.5 L1796.7,313.8 L1798.4,302.0 L1800.2,329.3 L1801.9,298.8 L1803.6,313.0 L1805.4,286.5 L1807.1,259.8 L1808.8,357.3 L1810.5,308.3 L1812.3,292.8 L1814.0,299.3 L1815.7,342.0 L1817.4,310.6 L1819.2,294.8 L1820.9,320.3 L1822.6,291.7 L1824.4,259.8 L1826.1,345.8 L1827.8,314.0 L1829.5,310.4 L1831.3,293.6 L1833.0,330.5 L1834.7,305.1 L1836.5,286.8 L1838.2,285.3 L1839.9,283.6 L1841.6,365.6 L1843.4,293.2 L1845.1,307.8 L1846.8,304.9 L1848.6,309.5 L1850.3,328.0 L1852.0,279.5 L1853.7,286.2 L1855.5,289.0 L1857.2,236.2 L1858.9,297.0 L1860.7,220.9 L1862.4,293.9 L1864.1,278.9 L1865.8,284.7 L1867.6,282.1 L1869.3,304.4 L1871.0,281.9 L1872.7,289.0 L1874.5,248.3 L1876.2,321.6 L1877.9,288.3 L1879.7,226.0 L1881.4,288.6 L1883.1,239.4 L1884.8,352.2 L1886.6,303.9 L1888.3,310.0 L1890.0,257.2 L1891.8,328.0 L1893.5,290.7 L1895.2,243.2 L1896.9,309.8 L1898.7,306.5 L1900.4,307.9 L1902.1,285.5 L1903.9,256.0 L1905.6,309.4 L1907.3,361.8 L1909.0,297.6 L1910.8,259.8 L1912.5,330.5 L1914.2,283.9 L1915.9,304.9 L1917.7,300.6 L1919.4,364.3 L1921.1,316.3 L1922.9,331.8 L1924.6,206.3 L1926.3,403.2 L1928.0,299.3 L1929.8,313.3 L1931.5,333.1 L1933.2,284.4 L1935.0,298.3 L1936.7,243.2 L1938.4,290.2 L1940.1,297.0 L1941.9,214.5 L1943.6,286.4 L1945.3,223.5 L1947.1,279.9 L1948.8,291.6 L1950.5,308.2 L1952.2,290.5 L1954.0,301.6 L1955.7,256.0 L1957.4,326.7 L1959.2,312.6 L1960.9,293.4 L1962.6,329.3 L1964.3,291.3 L1966.1,300.0 L1967.8,284.2 L1969.5,320.3 L1971.2,291.8 L1973.0,234.3 L1974.7,287.1 L1976.4,292.9 L1978.2,283.9 L1979.9,287.6 L1981.6,218.4 L1983.3,285.0 L1985.1,289.2 L1986.8,282.0 L1988.5,229.8 L1990.3,308.2 L1992.0,278.7 L1993.7,313.3 L1995.4,283.8 L1997.2,243.2 L1998.9,288.5 L2000.6,295.7 L2002.4,257.2 L2004.1,282.9 L2005.8,335.6 L2007.5,291.2 L2009.3,310.8 L2011.0,225.4 L2012.7,290.9 L2014.4,288.4 L2016.2,198.0 L2017.9,290.9 L2019.6,298.8 L2021.4,153.4 L2023.1,302.2 L2024.8,252.1 L2026.5,302.2 L2028.3,233.0 L2030.0,253.4" stroke="#e16462"/>
<path d="M1250.6,280.8 L1252.4,266.8 L1254.1,278.8 L1255.8,249.6 L1257.6,270.3 L1259.3,267.3 L1261.0,249.9 L1262.7,264.1 L1264.5,274.5 L1266.2,263.7 L1267.9,255.3 L1269.6,255.8 L1271.4,265.9 L1273.1,278.4 L1274.8,267.7 L1276.6,273.3 L1278.3,280.8 L1280.0,289.9 L1281.7,296.1 L1283.5,282.1 L1285.2,267.6 L1286.9,257.8 L1288.7,255.0 L1290.4,266.4 L1292.1,266.0 L1293.8,249.6 L1295.6,259.5 L1297.3,280.6 L1299.0,273.3 L1300.8,267.1 L1302.5,265.7 L1304.2,277.0 L1305.9,263.4 L1307.7,282.1 L1309.4,264.9 L1311.1,268.2 L1312.8,265.4 L1314.6,284.4 L1316.3,280.8 L1318.0,255.4 L1319.8,255.3 L1321.5,250.9 L1323.2,262.3 L1324.9,260.7 L1326.7,278.4 L1328.4,268.3 L1330.1,253.4 L1331.9,265.8 L1333.6,274.6 L1335.3,278.3 L1337.0,274.8 L1338.8,277.8 L1340.5,283.4 L1342.2,286.7 L1344.0,277.9 L1345.7,286.8 L1347.4,276.3 L1349.1,286.3 L1350.9,258.5 L1352.6,275.7 L1354.3,280.8 L1356.1,264.9 L1357.8,244.5 L1359.5,256.5 L1361.2,261.2 L1363.0,249.1 L1364.7,254.9 L1366.4,267.2 L1368.1,270.0 L1369.9,253.3 L1371.6,259.9 L1373.3,266.8 L1375.1,277.9 L1376.8,250.9 L1378.5,277.0 L1380.2,291.0 L1382.0,275.0 L1383.7,276.3 L1385.4,273.8 L1387.2,272.5 L1388.9,276.4 L1390.6,276.6 L1392.3,281.8 L1394.1,278.2 L1395.8,306.3 L1397.5,244.5 L1399.3,254.1 L1401.0,255.6 L1402.7,259.5 L1404.4,267.6 L1406.2,250.5 L1407.9,260.6 L1409.6,264.9 L1411.3,270.9 L1413.1,277.3 L1414.8,254.7 L1416.5,274.3 L1418.3,278.9 L1420.0,265.3 L1421.7,255.4 L1423.4,282.5 L1425.2,259.6 L1426.9,278.7 L1428.6,288.6 L1430.4,273.9 L1432.1,273.0 L1433.8,297.4 L1435.5,281.9 L1437.3,252.1 L1439.0,256.8 L1440.7,285.9 L1442.5,276.1 L1444.2,270.9 L1445.9,271.5 L1447.6,280.4 L1449.4,275.3 L1451.1,269.2 L1452.8,268.3 L1454.6,271.8 L1456.3,268.3 L1458.0,279.2 L1459.7,289.3 L1461.5,267.0 L1463.2,288.5 L1464.9,278.4 L1466.6,268.8 L1468.4,290.0 L1470.1,273.6 L1471.8,282.8 L1473.6,292.3 L1475.3,280.3 L1477.0,285.2 L1478.7,262.9 L1480.5,280.2 L1482.2,247.0 L1483.9,267.4 L1485.7,251.3 L1487.4,259.9 L1489.1,274.1 L1490.8,278.4 L1492.6,255.3 L1494.3,259.3 L1496.0,260.8 L1497.8,283.6 L1499.5,272.9 L1501.2,261.8 L1502.9,285.0 L1504.7,283.4 L1506.4,265.6 L1508.1,259.6 L1509.9,252.1 L1511.6,252.9 L1513.3,270.0 L1515.0,277.0 L1516.8,278.4 L1518.5,259.9 L1520.2,283.7 L1521.9,277.3 L1523.7,261.2 L1525.4,273.2 L1527.1,271.0 L1528.9,260.9 L1530.6,253.4 L1532.3,260.5 L1534.0,270.1 L1535.8,275.4 L1537.5,275.7 L1539.2,278.6 L1541.0,253.4 L1542.7,265.0 L1544.4,280.8 L1546.1,261.9 L1547.9,283.1 L1549.6,281.1 L1551.3,284.0 L1553.1,273.9 L1554.8,291.0 L1556.5,276.1 L1558.2,281.8 L1560.0,280.2 L1561.7,268.8 L1563.4,270.1 L1565.1,276.3 L1566.9,270.7 L1568.6,273.0 L1570.3,249.6 L1572.1,268.3 L1573.8,269.7 L1575.5,266.2 L1577.2,258.9 L1579.0,285.9 L1580.7,265.2 L1582.4,260.3 L1584.2,266.3 L1585.9,256.0 L1587.6,264.3 L1589.3,279.5 L1591.1,260.2 L1592.8,274.9 L1594.5,268.2 L1596.3,292.3 L1598.0,280.4 L1599.7,274.9 L1601.4,267.2 L1603.2,265.7 L1604.9,260.4 L1606.6,275.2 L1608.4,263.2 L1610.1,247.0 L1611.8,251.7 L1613.5,276.7 L1615.3,258.3 L1617.0,280.8 L1618.7,281.2 L1620.4,258.2 L1622.2,263.2 L1623.9,241.9 L1625.6,278.5 L1627.4,260.9 L1629.1,276.1 L1630.8,269.3 L1632.5,262.1 L1634.3,293.7 L1636.0,310.8 L1637.7,278.7 L1639.5,273.7 L1641.2,269.1 L1642.9,272.0 L1644.6,267.3 L1646.4,257.5 L1648.1,268.6 L1649.8,275.0 L1651.6,253.4 L1653.3,278.9 L1655.0,279.6 L1656.7,280.8 L1658.5,266.0 L1660.2,285.5 L1661.9,269.0 L1663.6,279.5 L1665.4,275.0 L1667.1,253.4 L1668.8,271.1 L1670.6,257.2 L1672.3,259.6 L1674.0,274.4 L1675.7,292.3 L1677.5,263.8 L1679.2,275.2 L1680.9,270.2 L1682.7,257.2 L1684.4,269.5 L1686.1,258.6 L1687.8,264.3 L1689.6,264.4 L1691.3,257.2 L1693.0,281.7 L1694.8,254.5 L1696.5,261.0 L1698.2,264.2 L1699.9,282.1 L1701.7,257.9 L1703.4,259.5 L1705.1,275.0 L1706.9,264.0 L1708.6,249.6 L1710.3,274.8 L1712.0,272.6 L1713.8,269.9 L1715.5,313.3 L1717.2,280.2 L1718.9,275.2 L1720.7,278.8 L1722.4,280.8 L1724.1,269.2 L1725.9,272.1 L1727.6,261.5 L1729.3,266.2 L1731.0,260.0 L1732.8,248.3 L1734.5,279.9 L1736.2,270.3 L1738.0,283.7 L1739.7,275.3 L1741.4,280.8 L1743.1,278.2 L1744.9,278.0 L1746.6,282.4 L1748.3,267.7 L1750.1,258.6 L1751.8,253.3 L1753.5,261.6 L1755.2,240.7 L1757.0,326.7 L1758.7,286.4 L1760.4,279.0 L1762.1,283.4 L1763.9,286.1 L1765.6,274.5 L1767.3,260.9 L1769.1,273.1 L1770.8,267.2 L1772.5,265.6 L1774.2,267.7 L1776.0,254.7 L1777.7,269.9 L1779.4,263.1 L1781.2,263.3 L1782.9,250.7 L1784.6,271.2 L1786.3,272.1 L1788.1,273.7 L1789.8,254.7 L1791.5,275.9 L1793.3,279.0 L1795.0,272.1 L1796.7,260.7 L1798.4,258.5 L1800.2,317.2 L1801.9,280.7 L1803.6,267.4 L1805.4,293.8 L1807.1,304.4 L1808.8,282.2 L1810.5,272.5 L1812.3,277.6 L1814.0,281.7 L1815.7,256.0 L1817.4,275.6 L1819.2,269.1 L1820.9,267.0 L1822.6,268.7 L1824.4,272.6 L1826.1,255.7 L1827.8,260.2 L1829.5,271.0 L1831.3,256.0 L1833.0,257.8 L1834.7,262.8 L1836.5,265.6 L1838.2,267.9 L1839.9,249.6 L1841.6,335.6 L1843.4,274.0 L1845.1,298.5 L1846.8,295.7 L1848.6,294.5 L1850.3,289.9 L1852.0,287.6 L1853.7,288.4 L1855.5,281.2 L1857.2,285.2 L1858.9,282.2 L1860.7,264.9 L1862.4,274.7 L1864.1,267.9 L1865.8,271.6 L1867.6,268.5 L1869.3,250.9 L1871.0,260.3 L1872.7,268.8 L1874.5,263.6 L1876.2,264.5 L1877.9,266.9 L1879.7,256.0 L1881.4,270.1 L1883.1,277.8 L1884.8,309.5 L1886.6,285.5 L1888.3,280.9 L1890.0,286.8 L1891.8,286.2 L1893.5,277.4 L1895.2,273.6 L1896.9,290.3 L1898.7,287.8 L1900.4,274.7 L1902.1,287.1 L1903.9,280.8 L1905.6,270.3 L1907.3,265.3 L1909.0,279.7 L1910.8,269.7 L1912.5,257.0 L1914.2,251.7 L1915.9,256.8 L1917.7,256.2 L1919.4,257.6 L1921.1,247.6 L1922.9,248.7 L1924.6,236.8 L1926.3,315.9 L1928.0,285.0 L1929.8,272.2 L1931.5,269.3 L1933.2,271.2 L1935.0,256.0 L1936.7,279.7 L1938.4,272.7 L1940.1,254.9 L1941.9,256.0 L1943.6,266.8 L1945.3,266.5 L1947.1,264.8 L1948.8,262.2 L1950.5,278.7 L1952.2,262.9 L1954.0,262.7 L1955.7,266.6 L1957.4,259.7 L1959.2,265.3 L1960.9,277.5 L1962.6,248.3 L1964.3,276.0 L1966.1,239.4 L1967.8,298.0 L1969.5,275.4 L1971.2,271.6 L1973.0,274.4 L1974.7,292.9 L1976.4,256.7 L1978.2,256.0 L1979.9,268.7 L1981.6,250.4 L1983.3,261.9 L1985.1,261.2 L1986.8,255.5 L1988.5,269.6 L1990.3,264.6 L1992.0,264.6 L1993.7,255.6 L1995.4,250.6 L1997.2,263.4 L1998.9,260.0 L2000.6,275.8 L2002.4,275.5 L2004.1,246.6 L2005.8,262.4 L2007.5,269.2 L2009.3,238.1 L2011.0,270.3 L2012.7,279.1 L2014.4,275.5 L2016.2,296.1 L2017.9,275.9 L2019.6,238.1 L2021.4,264.2 L2023.1,290.4 L2024.8,270.9 L2026.5,264.2 L2028.3,286.0 L2030.0,271.3" stroke="#fca636"/>
<line x1="1211.67" x2="2068.97" y1="264.89" y2="264.89" stroke="#000" stroke-width="3.47" stroke-dasharray="12.877 5.569" stroke-linecap="butt"/>
</g>
<rect x="1211.67" y="9.95" width="857.30" height="637.35" fill="none" stroke="#000" stroke-width="2.1"/>
<line x1="1203.57" x2="1211.67" y1="9.95" y2="9.95" stroke="#000" stroke-width="2.0"/>
<text x="1195.27" y="20.45" font-size="27.78" text-anchor="end">0.04</text>
<line x1="1203.57" x2="1211.67" y1="137.42" y2="137.42" stroke="#000" stroke-width="2.0"/>
<text x="1195.27" y="147.92" font-size="27.78" text-anchor="end">0.02</text>
<line x1="1203.57" x2="1211.67" y1="264.89" y2="264.89" stroke="#000" stroke-width="2.0"/>
<text x="1195.27" y="275.39" font-size="27.78" text-anchor="end">0.00</text>
<line x1="1203.57" x2="1211.67" y1="392.36" y2="392.36" stroke="#000" stroke-width="2.0"/>
<text x="1195.27" y="402.86" font-size="27.78" text-anchor="end">−0.02</text>
<line x1="1203.57" x2="1211.67" y1="519.83" y2="519.83" stroke="#000" stroke-width="2.0"/>
<text x="1195.27" y="530.33" font-size="27.78" text-anchor="end">−0.04</text>
<line x1="1203.57" x2="1211.67" y1="647.30" y2="647.30" stroke="#000" stroke-width="2.0"/>
<text x="1195.27" y="657.80" font-size="27.78" text-anchor="end">−0.06</text>
<line x1="1250.64" x2="1250.64" y1="647.30" y2="655.80" stroke="#000" stroke-width="2.0"/>
<text x="1250.64" y="684.90" font-size="27.78" text-anchor="middle">0</text>
<line x1="1423.45" x2="1423.45" y1="647.30" y2="655.80" stroke="#000" stroke-width="2.0"/>
<text x="1423.45" y="684.90" font-size="27.78" text-anchor="middle">100</text>
<line x1="1596.25" x2="1596.25" y1="647.30" y2="655.80" stroke="#000" stroke-width="2.0"/>
<text x="1596.25" y="684.90" font-size="27.78" text-anchor="middle">200</text>
<line x1="1769.06" x2="1769.06" y1="647.30" y2="655.80" stroke="#000" stroke-width="2.0"/>
<text x="1769.06" y="684.90" font-size="27.78" text-anchor="middle">300</text>
<line x1="1941.87" x2="1941.87" y1="647.30" y2="655.80" stroke="#000" stroke-width="2.0"/>
<text x="1941.87" y="684.90" font-size="27.78" text-anchor="middle">400</text>
<text x="1640.32" y="723.50" font-size="32.50" text-anchor="middle">Index</text>
<text transform="translate(1093.17,328.62) rotate(-90)" font-size="32.50" text-anchor="middle">Kernel phase residual [rad]</text>
<rect x="1381.00" y="478.45" width="518.30" height="152.75" rx="4.6" ry="4.6" fill="#fff" fill-opacity="0.8" stroke="#ccc" stroke-opacity="0.8" stroke-width="2.55"/>
<line x1="1394.04" x2="1459.54" y1="504.70" y2="504.70" stroke="#b12a90" stroke-width="3.47" stroke-linecap="square"/>
<text x="1485.40" y="515.80" font-size="32.50">(1)-(2), RMS = 0.008 rad</text>
<line x1="1394.04" x2="1459.54" y1="552.40" y2="552.40" stroke="#e16462" stroke-width="3.47" stroke-linecap="square"/>
<text x="1485.40" y="563.50" font-size="32.50">(1)-(3), RMS = 0.009 rad</text>
<line x1="1394.04" x2="1459.54" y1="600.10" y2="600.10" stroke="#fca636" stroke-width="3.47" stroke-linecap="square"/>
<text x="1485.40" y="611.20" font-size="32.50">(2)-(3), RMS = 0.002 rad</text>
</g>
</svg></body></html>
